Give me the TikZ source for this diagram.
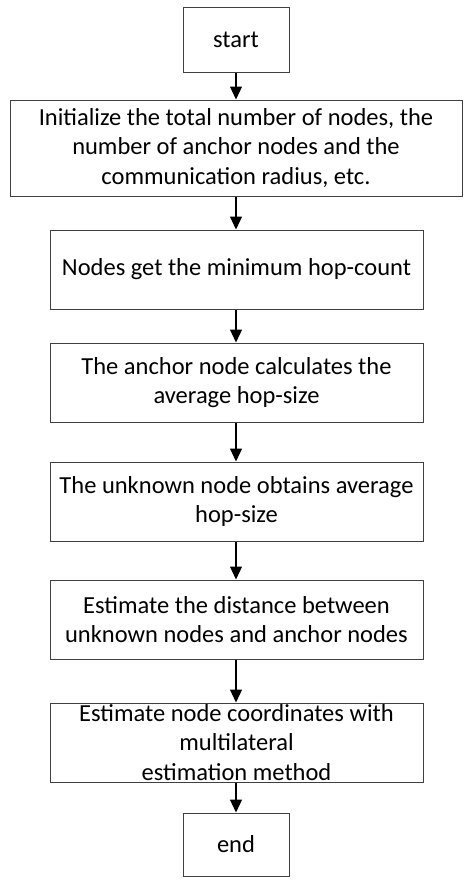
\documentclass[tikz,border=0pt]{standalone}
\usepackage{fontspec}
\setmainfont{Carlito}
\usetikzlibrary{arrows.meta}

\tikzset{
  stepbox/.style={draw=black!75, line width=1pt, align=center, inner sep=0pt,
    font=\fontsize{24.5}{29.5}\selectfont},
  flow/.style={line width=1.2pt, -{Triangle[width=12pt,length=13pt]}}
}

\begin{document}
\begin{tikzpicture}[x=1pt,y=1pt]
\useasboundingbox (0,0) rectangle (474,-891);

% the boxes
\node[stepbox, minimum width=106pt, minimum height=64pt] (start) at (236,-40) {start};
\node[stepbox, minimum width=452pt, minimum height=96pt] (init) at (236,-148)
  {Initialize the total number of nodes, the\\ number of anchor nodes and the\\ communication radius, etc.};
\node[stepbox, minimum width=373pt, minimum height=79pt] (hop) at (236.5,-269.5)
  {Nodes get the minimum hop-count};
\node[stepbox, minimum width=373pt, minimum height=79pt] (avg) at (236.5,-382.5)
  {The anchor node calculates the\\ average hop-size};
\node[stepbox, minimum width=373pt, minimum height=79pt] (obtain) at (236.5,-501.5)
  {The unknown node obtains average\\ hop-size};
\node[stepbox, minimum width=373pt, minimum height=79pt] (dist) at (236.5,-619.5)
  {Estimate the distance between\\ unknown nodes and anchor nodes};
\node[stepbox, minimum width=373pt, minimum height=79pt] (coord) at (236.5,-742.5) {};
\node[align=center, font=\fontsize{24.5}{29.5}\selectfont, inner sep=0pt] (coordtext) at (coord)
  {Estimate node coordinates with\\ multilateral\\ estimation method};
\node[stepbox, minimum width=106pt, minimum height=63pt] (end) at (236,-844.5) {end};

% the arrows
\draw[flow] (start.south) -- (init.north);
\draw[flow] (init.south) -- (init.south |- hop.north);
\draw[flow] (hop.south -| init.south) -- (init.south |- avg.north);
\draw[flow] (avg.south -| init.south) -- (init.south |- obtain.north);
\draw[flow] (obtain.south -| init.south) -- (init.south |- dist.north);
\draw[flow] (dist.south -| init.south) -- (init.south |- coord.north);
\draw[flow] (coord.south -| init.south) -- (end.north);
\end{tikzpicture}
\end{document}
